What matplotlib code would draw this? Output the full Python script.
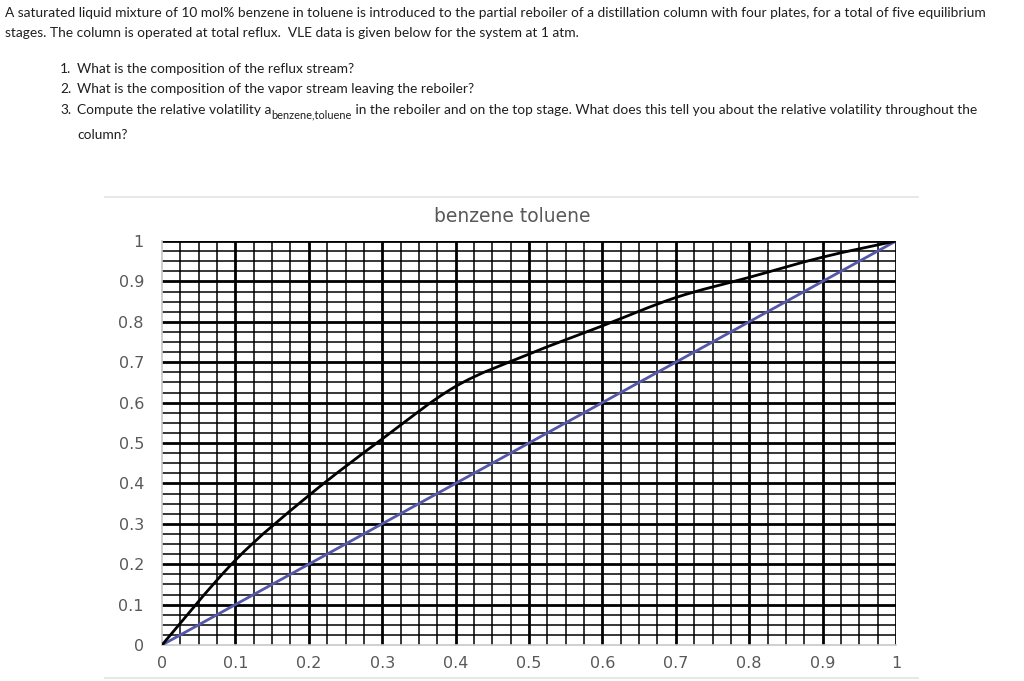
"""Problema de reflujo total benceno/tolueno con el diagrama de equilibrio x-y."""

import matplotlib

matplotlib.use("Agg")
import matplotlib.pyplot as plt  # noqa: E402
from matplotlib.lines import Line2D  # noqa: E402
from matplotlib.patches import PathPatch  # noqa: E402
from matplotlib.path import Path  # noqa: E402

W, H = 1024, 681
INK = "#1f1f1f"
LABEL = "#595959"
BLUE = "#5558aa"
FRAME = "#e3e3e3"

# datos VLE benceno-tolueno a 1 atm
x_liquid = [0.0, 0.1, 0.2, 0.3, 0.4, 0.5, 0.6, 0.7, 0.8, 0.9, 1.0]
y_vapor = [0.0, 0.21, 0.37, 0.51, 0.64, 0.72, 0.79, 0.86, 0.91, 0.96, 1.0]
diag_x = [0.0, 1.0]
diag_y = [0.0, 1.0]
tick_vals = [0.0, 0.1, 0.2, 0.3, 0.4, 0.5, 0.6, 0.7, 0.8, 0.9, 1.0]
tick_labels = ["0", "0.1", "0.2", "0.3", "0.4", "0.5", "0.6", "0.7", "0.8", "0.9", "1"]
minor_vals = [i / 40 for i in range(1, 41)]

INTRO = [
    "A saturated liquid mixture of 10 mol% benzene in toluene is introduced to the partial reboiler "
    "of a distillation column with four plates, for a total of five equilibrium",
    "stages. The column is operated at total reflux.  VLE data is given below for the system at 1 atm.",
]
ITEMS = [
    ("1.", "What is the composition of the reflux stream?"),
    ("2.", "What is the composition of the vapor stream leaving the reboiler?"),
]
ITEM3_PRE = "Compute the relative volatility a"
ITEM3_SUB = "benzene,toluene"
ITEM3_POST = (
    " in the reboiler and on the top stage. What does this tell you about the relative "
    "volatility throughout the"
)
ITEM3_CONT = "column?"
TITLE = "benzene toluene"


def fx(px: float) -> float:
    return px / W


def fy(py: float) -> float:
    return 1 - py / H


def smooth_path(xs, ys) -> Path:
    # curva suavizada tipo hoja de cálculo (Bezier por Catmull-Rom)
    pts = list(zip(xs, ys))
    verts = [pts[0]]
    codes = [Path.MOVETO]
    n = len(pts)
    for i in range(n - 1):
        p0 = pts[i - 1] if i > 0 else pts[i]
        p1, p2 = pts[i], pts[i + 1]
        p3 = pts[i + 2] if i + 2 < n else pts[i + 1]
        c1 = (p1[0] + (p2[0] - p0[0]) / 6, p1[1] + (p2[1] - p0[1]) / 6)
        c2 = (p2[0] - (p3[0] - p1[0]) / 6, p2[1] - (p3[1] - p1[1]) / 6)
        verts += [c1, c2, p2]
        codes += [Path.CURVE4] * 3
    return Path(verts, codes)


fig = plt.figure(figsize=(W / 100, H / 100), dpi=100)
fig.patch.set_facecolor("white")
renderer = fig.canvas.get_renderer()
FONT = ["Lato", "DejaVu Sans"]

# tamaño de letra ajustado al ancho de la primera línea
probe = fig.text(fx(5), fy(17.3), INTRO[0], fontsize=10, family=FONT, color=INK, va="baseline")
fs = 10 * (988 - 5) / probe.get_window_extent(renderer).width
probe.set_fontsize(fs)
fig.text(fx(5), fy(37.3), INTRO[1], fontsize=fs, family=FONT, color=INK, va="baseline")

for (num, body), base in zip(ITEMS, [72.7, 93.3]):
    fig.text(fx(60), fy(base), num, fontsize=fs, family=FONT, color=INK, va="baseline")
    fig.text(fx(77), fy(base), body, fontsize=fs, family=FONT, color=INK, va="baseline")

fig.text(fx(60), fy(114.3), "3.", fontsize=fs, family=FONT, color=INK, va="baseline")
t_pre = fig.text(fx(77), fy(114.3), ITEM3_PRE, fontsize=fs, family=FONT, color=INK, va="baseline")
x_sub = t_pre.get_window_extent(renderer).x1
t_sub = fig.text(x_sub / W, fy(118.5), ITEM3_SUB, fontsize=fs * 0.8, family=FONT, color=INK, va="baseline")
x_post = t_sub.get_window_extent(renderer).x1
fig.text(x_post / W, fy(114.3), ITEM3_POST, fontsize=fs, family=FONT, color=INK, va="baseline")
fig.text(fx(77), fy(139.3), ITEM3_CONT, fontsize=fs, family=FONT, color=INK, va="baseline")

# marco del gráfico
for py in (197, 678):
    fig.add_artist(Line2D([fx(105), fx(918)], [fy(py), fy(py)], color=FRAME, lw=1.2))

ax = fig.add_axes((fx(162), fy(645), fx(896) - fx(162), fy(241) - fy(645)))
ax.set_xlim(0, 1)
ax.set_ylim(0, 1)

# papel milimetrado: líneas cada 0.025, más gruesas cada 0.1
for v in minor_vals:
    major = abs(v * 10 - round(v * 10)) < 1e-9
    lw = 2.0 if major else 1.1
    ax.axvline(v, color="black", lw=lw, zorder=1)
    ax.axhline(v, color="black", lw=lw, zorder=1)

ax.plot(diag_x, diag_y, color=BLUE, lw=2.0, zorder=3, solid_capstyle="butt")
ax.add_patch(
    PathPatch(smooth_path(x_liquid, y_vapor), facecolor="none", edgecolor="black", lw=2.0, zorder=4)
)

for side in ("top", "right"):
    ax.spines[side].set_visible(False)
for side in ("left", "bottom"):
    ax.spines[side].set_color("#c8c8c8")
    ax.spines[side].set_linewidth(1.2)
    ax.spines[side].set_zorder(2)

ax.set_xticks(tick_vals, tick_labels)
ax.set_yticks(tick_vals, tick_labels)
ax.tick_params(length=0, labelsize=11.5, labelcolor=LABEL)
ax.tick_params(axis="y", pad=13)
ax.tick_params(axis="x", pad=8)
for lab in ax.get_xticklabels() + ax.get_yticklabels():
    lab.set_family("DejaVu Sans")

fig.text(0.5, fy(216), TITLE, fontsize=13.5, family="DejaVu Sans", color=LABEL, ha="center", va="center")

fig.savefig("out.png", dpi=100, facecolor="white")
